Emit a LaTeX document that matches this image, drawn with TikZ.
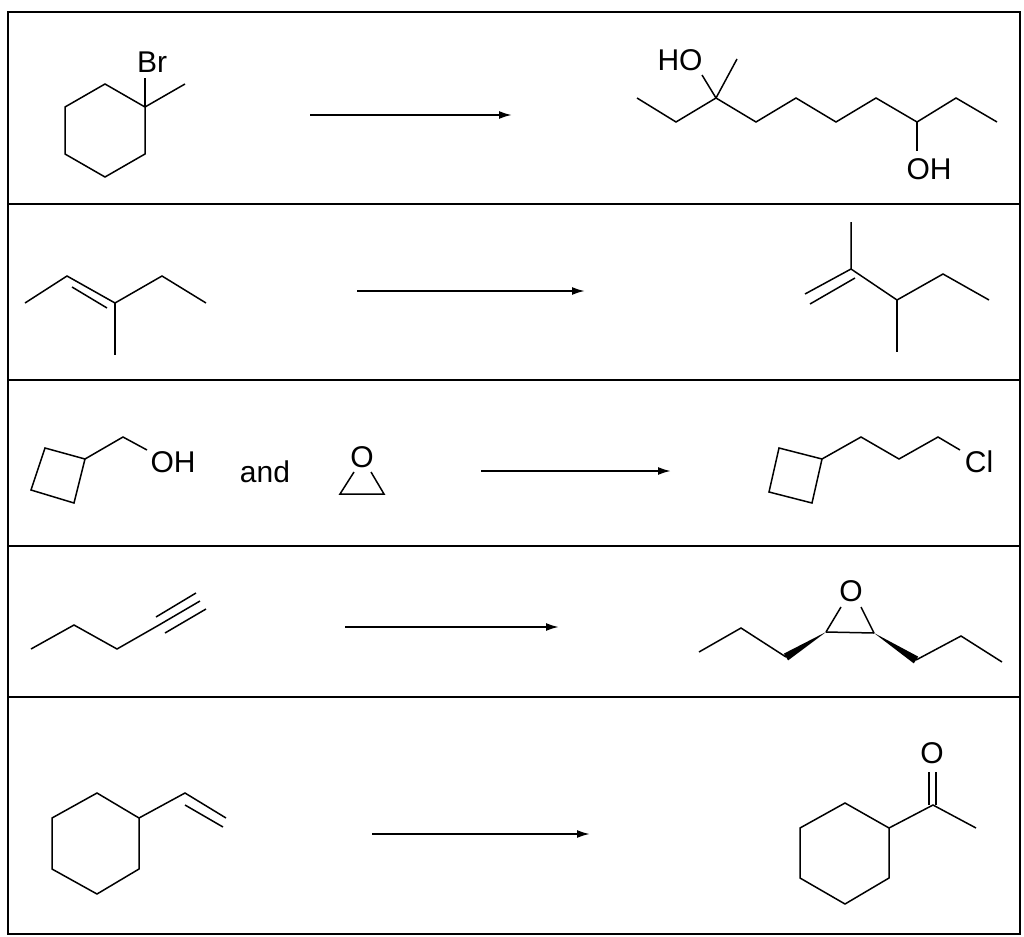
\documentclass[tikz,border=0pt]{standalone}
\usepackage{fontspec}
\setmainfont{Liberation Sans}
\usetikzlibrary{arrows.meta}
\begin{document}
\begin{tikzpicture}[x=1pt,y=-1pt,
  bond/.style={line width=1.5pt,line join=miter},
  rxn/.style={line width=2pt,-{Latex[length=13pt,width=8pt]}},
  lbl/.style={inner sep=0pt,font=\fontsize{30}{30}\selectfont},
  frame/.style={line width=1.8pt}]
\useasboundingbox (0,0) rectangle (1024,936);
% frame
\draw[frame] (8,12) rectangle (1020,934);
\draw[frame] (8,204) -- (1020,204);
\draw[frame] (8,380) -- (1020,380);
\draw[frame] (8,546) -- (1020,546);
\draw[frame] (8,697) -- (1020,697);

% ---- Row 1
\draw[bond] (65,107) -- (105,84) -- (145,107) -- (145,154) -- (105,177) -- (65,154) -- cycle;
\draw[bond] (145,107) -- (145,78);
\draw[bond] (145,107) -- (185,84);
\node[lbl] (br) at (152,62) {Br};
\coordinate (a1s) at (310,115); \coordinate (a1e) at (512,115);
\draw[rxn] (a1s) -- (a1e);
\draw[bond] (637,98) -- (676,122) -- (716,98) -- (756,122) -- (796,98) -- (836,122) -- (876,98) -- (917,122) -- (956,98) -- (997,122);
\draw[bond] (716,98) -- (702,75);
\draw[bond] (716,98) -- (737,59);
\node[lbl] (ho) at (680,60) {HO};
\draw[bond] (917,122) -- (917,151);
\node[lbl] (oh1) at (929,169) {OH};

% ---- Row 2
\draw[bond] (25,303) -- (67,276) -- (115,303) -- (162,276) -- (206,303);
\draw[bond] (72,287) -- (107,308);
\draw[bond] (115,303) -- (115,355);
\coordinate (a2s) at (357,291); \coordinate (a2e) at (585,291);
\draw[rxn] (a2s) -- (a2e);
\draw[bond] (851,222) -- (851,269) -- (897,300) -- (943,274) -- (989,300);
\draw[bond] (897,300) -- (897,352);
\draw[bond] (851,269) -- (805,294);
\draw[bond] (855,278) -- (810,304);

% ---- Row 3
\draw[bond] (31,490) -- (45,448) -- (85,459) -- (74,503) -- cycle;
\draw[bond] (85,459) -- (123,437) -- (147,450);
\node[lbl] (oh2) at (173,462) {OH};
\node[lbl] (and) at (265,472) {and};
\node[lbl] (ep) at (362,457) {O};
\draw[bond] (354,472) -- (340,494) -- (384,494) -- (371,472);
\coordinate (a3s) at (481,471); \coordinate (a3e) at (671,471);
\draw[rxn] (a3s) -- (a3e);
\draw[bond] (769,492) -- (779,448) -- (822,459) -- (812,503) -- cycle;
\draw[bond] (822,459) -- (861,437) -- (899,459) -- (938,437) -- (960,450);
\node[lbl] (cl) at (979,462) {Cl};

% ---- Row 4
\draw[bond] (31,649) -- (74,625) -- (117,649) -- (159,625) -- (200,601);
\draw[bond] (156,617) -- (196,593);
\draw[bond] (165,633) -- (206,609);
\coordinate (a4s) at (345,627); \coordinate (a4e) at (559,627);
\draw[rxn] (a4s) -- (a4e);
\draw[bond] (699,652) -- (741,628) -- (786,657);
\fill (826,632) -- (788.1,660.4) -- (783.9,653.6) -- cycle;
\draw[bond] (826,632) -- (874,633);
\node[lbl] (o4) at (851,591) {O};
\draw[bond] (841,607) -- (826,632);
\draw[bond] (861,607) -- (874,633);
\fill (874,633) -- (913.8,663.4) -- (918.2,656.6) -- cycle;
\draw[bond] (916,660) -- (961,636) -- (1002,662);

% ---- Row 5
\draw[bond] (97,793) -- (139,818) -- (139,869) -- (97,894) -- (52,869) -- (52,818) -- cycle;
\draw[bond] (139,818) -- (185,793) -- (226,818);
\draw[bond] (185,805) -- (223,827);
\coordinate (a5s) at (372,834); \coordinate (a5e) at (590,834);
\draw[rxn] (a5s) -- (a5e);
\draw[bond] (845,803) -- (889,828) -- (889,878) -- (845,904) -- (800,878) -- (800,828) -- cycle;
\draw[bond] (889,828) -- (933,805) -- (976,828);
\draw[bond] (929,805) -- (929,772);
\draw[bond] (936,805) -- (936,772);
\node[lbl] (o5) at (932,753) {O};
\end{tikzpicture}
\end{document}
